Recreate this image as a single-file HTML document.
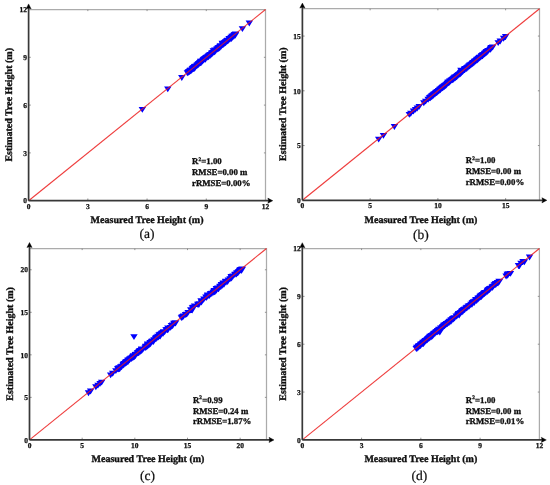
<!DOCTYPE html>
<html><head><meta charset="utf-8"><title>Tree height scatter plots</title>
<style>
html,body{margin:0;padding:0;background:#fff;}
svg{display:block;}
text{font-family:'Liberation Serif','Times New Roman',serif;fill:#111;stroke:#111;stroke-width:0.25px;text-rendering:geometricPrecision;}
.tk{font-size:7.5px;font-weight:bold;}
.al{font-size:10px;font-weight:bold;stroke-width:0.35px;}
.st{font-size:8.8px;font-weight:bold;stroke-width:0.32px;}
.sup{font-size:5.3px;}
.cap{font-size:13.5px;font-weight:normal;stroke-width:0.22px;}
</style></head>
<body>
<svg width="550" height="485" viewBox="0 0 550 485">
<defs><filter id="soft" x="0" y="0" width="100%" height="100%"><feGaussianBlur stdDeviation="0.3"/></filter></defs>
<rect width="550" height="485" fill="#fff"/>
<g filter="url(#soft)"><g><path d="M28.60 9.50H265.50V200.70" fill="none" stroke="#ababab" stroke-width="1.25"/><path d="M87.83 9.50v1.6M87.83 200.70v-2.2M265.50 152.90h-1.6M28.60 152.90h2.2M147.05 9.50v1.6M147.05 200.70v-2.2M265.50 105.10h-1.6M28.60 105.10h2.2M206.28 9.50v1.6M206.28 200.70v-2.2M265.50 57.30h-1.6M28.60 57.30h2.2" stroke="#888" stroke-width="0.9"/><path d="M138.61 106.97h7.4l-3.7 5.9zM164.08 86.42h7.4l-3.7 5.9zM178.10 75.11h7.4l-3.7 5.9zM238.70 26.19h7.4l-3.7 5.9zM245.61 20.62h7.4l-3.7 5.9zM199.73 57.56h7.4l-3.7 5.9zM187.05 67.71h7.4l-3.7 5.9zM186.54 68.23h7.4l-3.7 5.9zM204.91 53.51h7.4l-3.7 5.9zM204.42 54.02h7.4l-3.7 5.9zM194.12 62.19h7.4l-3.7 5.9zM211.09 47.56h7.4l-3.7 5.9zM186.23 68.82h7.4l-3.7 5.9zM190.99 64.72h7.4l-3.7 5.9zM223.46 38.34h7.4l-3.7 5.9zM214.46 45.33h7.4l-3.7 5.9zM187.04 67.98h7.4l-3.7 5.9zM216.50 43.83h7.4l-3.7 5.9zM211.90 47.57h7.4l-3.7 5.9zM222.17 39.65h7.4l-3.7 5.9zM211.01 48.14h7.4l-3.7 5.9zM218.91 41.36h7.4l-3.7 5.9zM189.10 65.68h7.4l-3.7 5.9zM191.09 64.55h7.4l-3.7 5.9zM216.18 44.71h7.4l-3.7 5.9zM225.99 35.97h7.4l-3.7 5.9zM212.28 47.41h7.4l-3.7 5.9zM224.76 37.79h7.4l-3.7 5.9zM216.37 44.42h7.4l-3.7 5.9zM215.67 45.24h7.4l-3.7 5.9zM197.25 59.14h7.4l-3.7 5.9zM184.74 69.57h7.4l-3.7 5.9zM189.96 65.77h7.4l-3.7 5.9zM190.08 65.20h7.4l-3.7 5.9zM226.25 36.34h7.4l-3.7 5.9zM210.80 49.33h7.4l-3.7 5.9zM225.55 36.52h7.4l-3.7 5.9zM201.73 56.88h7.4l-3.7 5.9zM191.22 64.44h7.4l-3.7 5.9zM194.71 61.35h7.4l-3.7 5.9zM196.84 60.22h7.4l-3.7 5.9zM201.01 56.31h7.4l-3.7 5.9zM216.81 43.56h7.4l-3.7 5.9zM217.12 43.92h7.4l-3.7 5.9zM221.92 40.34h7.4l-3.7 5.9zM202.69 55.10h7.4l-3.7 5.9zM214.60 45.69h7.4l-3.7 5.9zM194.06 62.15h7.4l-3.7 5.9zM186.53 68.43h7.4l-3.7 5.9zM188.68 66.48h7.4l-3.7 5.9zM225.98 36.44h7.4l-3.7 5.9zM195.86 60.45h7.4l-3.7 5.9zM190.31 66.30h7.4l-3.7 5.9zM206.23 52.29h7.4l-3.7 5.9zM188.64 66.34h7.4l-3.7 5.9zM223.94 38.09h7.4l-3.7 5.9zM229.65 33.39h7.4l-3.7 5.9zM210.45 49.23h7.4l-3.7 5.9zM231.45 32.57h7.4l-3.7 5.9zM196.33 60.19h7.4l-3.7 5.9zM220.65 40.44h7.4l-3.7 5.9zM199.86 57.19h7.4l-3.7 5.9zM231.78 32.38h7.4l-3.7 5.9zM223.39 38.71h7.4l-3.7 5.9zM208.81 50.23h7.4l-3.7 5.9zM185.13 69.21h7.4l-3.7 5.9zM217.63 43.52h7.4l-3.7 5.9zM229.88 33.95h7.4l-3.7 5.9zM201.50 56.08h7.4l-3.7 5.9zM193.45 62.49h7.4l-3.7 5.9zM227.55 35.57h7.4l-3.7 5.9zM215.44 45.09h7.4l-3.7 5.9zM216.21 44.92h7.4l-3.7 5.9zM219.92 41.18h7.4l-3.7 5.9zM221.72 39.31h7.4l-3.7 5.9zM230.58 32.41h7.4l-3.7 5.9zM229.59 33.67h7.4l-3.7 5.9zM190.34 65.11h7.4l-3.7 5.9zM223.17 38.65h7.4l-3.7 5.9zM231.08 32.40h7.4l-3.7 5.9zM210.39 49.04h7.4l-3.7 5.9zM230.57 32.82h7.4l-3.7 5.9zM228.43 33.85h7.4l-3.7 5.9zM223.83 38.06h7.4l-3.7 5.9zM198.01 58.73h7.4l-3.7 5.9zM196.23 60.30h7.4l-3.7 5.9zM227.64 34.75h7.4l-3.7 5.9zM212.29 47.86h7.4l-3.7 5.9zM227.84 34.66h7.4l-3.7 5.9zM209.46 50.02h7.4l-3.7 5.9zM193.21 63.33h7.4l-3.7 5.9zM191.69 63.70h7.4l-3.7 5.9zM210.57 48.51h7.4l-3.7 5.9zM210.72 48.91h7.4l-3.7 5.9zM210.92 48.42h7.4l-3.7 5.9zM220.79 40.36h7.4l-3.7 5.9zM220.85 40.95h7.4l-3.7 5.9zM213.09 46.59h7.4l-3.7 5.9zM216.98 43.36h7.4l-3.7 5.9zM207.37 51.96h7.4l-3.7 5.9zM226.43 36.34h7.4l-3.7 5.9zM211.41 48.80h7.4l-3.7 5.9zM190.68 64.95h7.4l-3.7 5.9zM187.34 67.56h7.4l-3.7 5.9zM216.33 44.85h7.4l-3.7 5.9zM191.20 64.80h7.4l-3.7 5.9zM191.31 65.33h7.4l-3.7 5.9zM194.73 61.99h7.4l-3.7 5.9zM207.95 51.49h7.4l-3.7 5.9zM191.31 64.06h7.4l-3.7 5.9zM200.31 57.05h7.4l-3.7 5.9zM219.12 42.26h7.4l-3.7 5.9zM205.39 53.27h7.4l-3.7 5.9zM213.89 46.14h7.4l-3.7 5.9zM231.65 32.65h7.4l-3.7 5.9zM188.88 66.33h7.4l-3.7 5.9zM221.48 39.95h7.4l-3.7 5.9zM204.71 54.24h7.4l-3.7 5.9zM196.72 59.96h7.4l-3.7 5.9zM211.38 48.31h7.4l-3.7 5.9zM186.48 68.47h7.4l-3.7 5.9zM187.71 67.79h7.4l-3.7 5.9zM223.10 38.96h7.4l-3.7 5.9zM187.25 68.09h7.4l-3.7 5.9zM199.58 57.43h7.4l-3.7 5.9zM197.03 59.82h7.4l-3.7 5.9zM195.49 61.09h7.4l-3.7 5.9zM186.33 68.32h7.4l-3.7 5.9zM198.59 58.78h7.4l-3.7 5.9zM208.13 50.77h7.4l-3.7 5.9zM184.70 69.74h7.4l-3.7 5.9zM219.10 41.92h7.4l-3.7 5.9zM206.91 52.00h7.4l-3.7 5.9zM223.11 38.40h7.4l-3.7 5.9zM223.91 37.73h7.4l-3.7 5.9zM217.35 43.66h7.4l-3.7 5.9zM223.96 38.32h7.4l-3.7 5.9zM203.34 54.62h7.4l-3.7 5.9zM190.54 65.25h7.4l-3.7 5.9zM196.25 60.42h7.4l-3.7 5.9zM224.81 37.91h7.4l-3.7 5.9zM197.47 59.28h7.4l-3.7 5.9zM206.22 52.33h7.4l-3.7 5.9zM197.32 60.36h7.4l-3.7 5.9zM210.31 48.51h7.4l-3.7 5.9zM198.78 58.39h7.4l-3.7 5.9zM201.93 55.54h7.4l-3.7 5.9zM193.51 62.64h7.4l-3.7 5.9zM196.85 60.05h7.4l-3.7 5.9zM186.09 68.83h7.4l-3.7 5.9zM194.77 61.55h7.4l-3.7 5.9zM219.86 41.51h7.4l-3.7 5.9zM226.14 36.03h7.4l-3.7 5.9zM231.73 31.74h7.4l-3.7 5.9zM215.47 45.25h7.4l-3.7 5.9zM226.63 35.95h7.4l-3.7 5.9zM223.34 38.56h7.4l-3.7 5.9zM208.49 51.17h7.4l-3.7 5.9zM223.25 38.48h7.4l-3.7 5.9zM216.78 43.99h7.4l-3.7 5.9zM185.52 69.10h7.4l-3.7 5.9zM189.09 66.65h7.4l-3.7 5.9zM213.87 46.24h7.4l-3.7 5.9zM208.02 51.38h7.4l-3.7 5.9zM219.65 41.28h7.4l-3.7 5.9zM216.15 44.59h7.4l-3.7 5.9zM196.23 60.56h7.4l-3.7 5.9zM219.23 41.64h7.4l-3.7 5.9zM230.72 32.39h7.4l-3.7 5.9zM206.78 52.16h7.4l-3.7 5.9zM213.59 46.48h7.4l-3.7 5.9zM190.94 64.34h7.4l-3.7 5.9zM198.50 58.62h7.4l-3.7 5.9zM186.70 67.76h7.4l-3.7 5.9zM217.19 43.64h7.4l-3.7 5.9zM208.48 50.26h7.4l-3.7 5.9zM189.71 65.96h7.4l-3.7 5.9zM231.18 32.32h7.4l-3.7 5.9zM206.35 53.14h7.4l-3.7 5.9zM205.54 52.78h7.4l-3.7 5.9zM229.65 33.27h7.4l-3.7 5.9zM189.95 65.04h7.4l-3.7 5.9zM190.38 65.57h7.4l-3.7 5.9zM226.65 36.03h7.4l-3.7 5.9zM227.17 35.44h7.4l-3.7 5.9zM183.67 70.33h7.4l-3.7 5.9zM198.60 58.53h7.4l-3.7 5.9zM199.12 58.16h7.4l-3.7 5.9zM220.21 41.28h7.4l-3.7 5.9zM228.48 34.82h7.4l-3.7 5.9zM197.63 59.00h7.4l-3.7 5.9zM231.89 31.62h7.4l-3.7 5.9zM204.51 53.70h7.4l-3.7 5.9zM188.86 66.69h7.4l-3.7 5.9zM229.07 33.78h7.4l-3.7 5.9zM208.64 50.33h7.4l-3.7 5.9zM230.47 33.45h7.4l-3.7 5.9zM214.94 46.15h7.4l-3.7 5.9zM210.37 49.12h7.4l-3.7 5.9zM218.77 41.78h7.4l-3.7 5.9zM214.97 45.25h7.4l-3.7 5.9zM228.88 34.11h7.4l-3.7 5.9zM200.30 56.70h7.4l-3.7 5.9zM231.01 32.03h7.4l-3.7 5.9zM198.09 58.83h7.4l-3.7 5.9zM196.19 60.26h7.4l-3.7 5.9zM225.34 36.18h7.4l-3.7 5.9zM227.84 36.21h7.4l-3.7 5.9zM194.76 61.38h7.4l-3.7 5.9zM203.79 54.61h7.4l-3.7 5.9zM196.85 58.85h7.4l-3.7 5.9zM218.62 40.82h7.4l-3.7 5.9zM209.59 48.26h7.4l-3.7 5.9z" fill="#0000ff"/><path d="M28.60 200.70L265.50 9.50" stroke="#eb1a1a" stroke-opacity="0.85" stroke-width="1.1"/><path d="M28.60 200.70V7.90M28.60 200.70H268.80" fill="none" stroke="#383838" stroke-width="1.7"/><path d="M28.60 3.90L31.20 8.90L28.60 8.10L26.00 8.90Z" fill="#000" stroke="#000" stroke-width="0.4"/><path d="M272.80 200.70L267.80 198.10L268.60 200.70L267.80 203.30Z" fill="#000" stroke="#000" stroke-width="0.4"/><text x="28.60" y="208.80" text-anchor="middle" class="tk">0</text><text x="27.00" y="203.40" text-anchor="end" class="tk">0</text><text x="87.83" y="208.80" text-anchor="middle" class="tk">3</text><text x="27.00" y="155.60" text-anchor="end" class="tk">3</text><text x="147.05" y="208.80" text-anchor="middle" class="tk">6</text><text x="27.00" y="107.80" text-anchor="end" class="tk">6</text><text x="206.28" y="208.80" text-anchor="middle" class="tk">9</text><text x="27.00" y="60.00" text-anchor="end" class="tk">9</text><text x="265.50" y="208.80" text-anchor="middle" class="tk">12</text><text x="27.00" y="12.20" text-anchor="end" class="tk">12</text><text x="147.05" y="223.10" text-anchor="middle" class="al">Measured Tree Height (m)</text><text transform="translate(11.80 104.80) rotate(-90)" text-anchor="middle" class="al">Estimated Tree Height (m)</text><text x="192.00" y="164.00" class="st">R<tspan class="sup" dx="0.1" dy="-3.5">2</tspan><tspan dx="0.2" dy="3.5">=1.00</tspan></text><text x="192.00" y="174.80" class="st">RMSE=0.00 m</text><text x="192.00" y="185.60" class="st">rRMSE=0.00%</text><text x="147.00" y="237.80" text-anchor="middle" class="cap">(a)</text></g><g><path d="M302.40 8.70H539.50V200.30" fill="none" stroke="#ababab" stroke-width="1.25"/><path d="M370.14 8.70v1.6M370.14 200.30v-2.2M539.50 145.56h-1.6M302.40 145.56h2.2M437.89 8.70v1.6M437.89 200.30v-2.2M539.50 90.81h-1.6M302.40 90.81h2.2M505.63 8.70v1.6M505.63 200.30v-2.2M539.50 36.07h-1.6M302.40 36.07h2.2" stroke="#888" stroke-width="0.9"/><path d="M374.98 136.71h7.4l-3.7 5.9zM379.72 132.88h7.4l-3.7 5.9zM390.69 124.01h7.4l-3.7 5.9zM405.60 111.97h7.4l-3.7 5.9zM407.09 110.76h7.4l-3.7 5.9zM409.80 108.57h7.4l-3.7 5.9zM411.83 106.93h7.4l-3.7 5.9zM413.59 105.51h7.4l-3.7 5.9zM415.49 103.97h7.4l-3.7 5.9zM420.10 100.25h7.4l-3.7 5.9zM421.99 98.72h7.4l-3.7 5.9zM424.43 96.75h7.4l-3.7 5.9zM494.48 40.14h7.4l-3.7 5.9zM496.51 38.50h7.4l-3.7 5.9zM499.90 35.76h7.4l-3.7 5.9zM501.93 34.12h7.4l-3.7 5.9zM429.92 91.82h7.4l-3.7 5.9zM433.79 88.96h7.4l-3.7 5.9zM481.04 50.90h7.4l-3.7 5.9zM441.70 82.54h7.4l-3.7 5.9zM487.04 46.62h7.4l-3.7 5.9zM427.76 94.26h7.4l-3.7 5.9zM482.83 49.31h7.4l-3.7 5.9zM425.71 95.19h7.4l-3.7 5.9zM478.96 53.30h7.4l-3.7 5.9zM441.97 82.59h7.4l-3.7 5.9zM459.12 68.91h7.4l-3.7 5.9zM471.81 58.52h7.4l-3.7 5.9zM455.12 71.92h7.4l-3.7 5.9zM475.92 54.81h7.4l-3.7 5.9zM467.13 62.14h7.4l-3.7 5.9zM441.88 82.67h7.4l-3.7 5.9zM433.42 89.58h7.4l-3.7 5.9zM463.06 65.36h7.4l-3.7 5.9zM464.50 64.49h7.4l-3.7 5.9zM455.68 71.79h7.4l-3.7 5.9zM482.19 49.94h7.4l-3.7 5.9zM442.10 82.78h7.4l-3.7 5.9zM445.87 79.59h7.4l-3.7 5.9zM468.87 60.67h7.4l-3.7 5.9zM468.68 61.15h7.4l-3.7 5.9zM428.12 93.53h7.4l-3.7 5.9zM469.64 60.03h7.4l-3.7 5.9zM472.99 57.40h7.4l-3.7 5.9zM487.67 45.24h7.4l-3.7 5.9zM440.82 83.28h7.4l-3.7 5.9zM445.06 80.31h7.4l-3.7 5.9zM438.02 85.63h7.4l-3.7 5.9zM468.53 61.23h7.4l-3.7 5.9zM451.24 74.75h7.4l-3.7 5.9zM435.16 88.11h7.4l-3.7 5.9zM451.44 75.40h7.4l-3.7 5.9zM473.19 57.73h7.4l-3.7 5.9zM447.21 78.14h7.4l-3.7 5.9zM473.87 56.98h7.4l-3.7 5.9zM450.04 75.85h7.4l-3.7 5.9zM437.00 86.72h7.4l-3.7 5.9zM448.54 77.37h7.4l-3.7 5.9zM487.51 45.66h7.4l-3.7 5.9zM478.47 53.31h7.4l-3.7 5.9zM429.00 92.87h7.4l-3.7 5.9zM484.68 47.97h7.4l-3.7 5.9zM483.38 49.24h7.4l-3.7 5.9zM477.76 53.71h7.4l-3.7 5.9zM428.70 93.50h7.4l-3.7 5.9zM442.42 82.56h7.4l-3.7 5.9zM447.58 77.58h7.4l-3.7 5.9zM465.32 63.42h7.4l-3.7 5.9zM446.21 79.13h7.4l-3.7 5.9zM474.42 56.67h7.4l-3.7 5.9zM486.27 46.88h7.4l-3.7 5.9zM456.80 71.09h7.4l-3.7 5.9zM450.67 75.37h7.4l-3.7 5.9zM457.60 70.09h7.4l-3.7 5.9zM477.14 54.44h7.4l-3.7 5.9zM475.13 55.76h7.4l-3.7 5.9zM446.18 78.77h7.4l-3.7 5.9zM431.20 91.11h7.4l-3.7 5.9zM441.85 82.69h7.4l-3.7 5.9zM460.98 66.59h7.4l-3.7 5.9zM482.47 49.98h7.4l-3.7 5.9zM431.61 91.00h7.4l-3.7 5.9zM471.11 58.87h7.4l-3.7 5.9zM452.38 74.15h7.4l-3.7 5.9zM473.86 57.14h7.4l-3.7 5.9zM433.86 89.31h7.4l-3.7 5.9zM461.92 66.07h7.4l-3.7 5.9zM438.74 85.06h7.4l-3.7 5.9zM436.02 87.69h7.4l-3.7 5.9zM446.33 78.33h7.4l-3.7 5.9zM458.41 69.03h7.4l-3.7 5.9zM467.75 61.82h7.4l-3.7 5.9zM456.45 71.29h7.4l-3.7 5.9zM484.45 48.35h7.4l-3.7 5.9zM433.85 88.89h7.4l-3.7 5.9zM463.37 65.49h7.4l-3.7 5.9zM481.06 50.82h7.4l-3.7 5.9zM475.67 55.44h7.4l-3.7 5.9zM463.91 64.84h7.4l-3.7 5.9zM449.62 76.37h7.4l-3.7 5.9zM442.05 82.46h7.4l-3.7 5.9zM439.19 84.95h7.4l-3.7 5.9zM469.32 60.40h7.4l-3.7 5.9zM439.08 85.17h7.4l-3.7 5.9zM430.25 92.08h7.4l-3.7 5.9zM461.03 67.18h7.4l-3.7 5.9zM436.41 87.17h7.4l-3.7 5.9zM443.92 80.48h7.4l-3.7 5.9zM445.77 79.42h7.4l-3.7 5.9zM453.03 74.42h7.4l-3.7 5.9zM449.33 76.46h7.4l-3.7 5.9zM439.46 84.94h7.4l-3.7 5.9zM453.13 73.78h7.4l-3.7 5.9zM482.16 49.98h7.4l-3.7 5.9zM426.73 94.74h7.4l-3.7 5.9zM484.23 48.50h7.4l-3.7 5.9zM449.56 76.35h7.4l-3.7 5.9zM443.64 80.91h7.4l-3.7 5.9zM432.62 89.82h7.4l-3.7 5.9zM487.66 45.60h7.4l-3.7 5.9zM486.34 46.93h7.4l-3.7 5.9zM429.64 92.76h7.4l-3.7 5.9zM483.36 49.11h7.4l-3.7 5.9zM436.29 87.30h7.4l-3.7 5.9zM452.03 74.87h7.4l-3.7 5.9zM437.75 85.86h7.4l-3.7 5.9zM458.96 68.73h7.4l-3.7 5.9zM441.72 83.07h7.4l-3.7 5.9zM428.36 93.42h7.4l-3.7 5.9zM428.54 93.54h7.4l-3.7 5.9zM463.96 64.65h7.4l-3.7 5.9zM445.32 79.57h7.4l-3.7 5.9zM453.05 73.68h7.4l-3.7 5.9zM454.25 72.84h7.4l-3.7 5.9zM457.26 69.97h7.4l-3.7 5.9zM475.60 55.27h7.4l-3.7 5.9zM456.27 71.03h7.4l-3.7 5.9zM453.66 73.18h7.4l-3.7 5.9zM458.82 69.12h7.4l-3.7 5.9zM431.26 91.48h7.4l-3.7 5.9zM458.85 69.05h7.4l-3.7 5.9zM450.22 76.02h7.4l-3.7 5.9zM480.96 51.34h7.4l-3.7 5.9zM478.15 53.06h7.4l-3.7 5.9zM457.81 70.22h7.4l-3.7 5.9zM436.68 87.31h7.4l-3.7 5.9zM430.03 91.84h7.4l-3.7 5.9zM436.30 87.34h7.4l-3.7 5.9zM478.14 53.31h7.4l-3.7 5.9zM484.68 47.97h7.4l-3.7 5.9zM458.25 69.35h7.4l-3.7 5.9zM437.90 85.74h7.4l-3.7 5.9zM469.44 60.52h7.4l-3.7 5.9zM476.22 54.91h7.4l-3.7 5.9zM466.31 62.43h7.4l-3.7 5.9zM461.04 67.03h7.4l-3.7 5.9zM433.00 90.06h7.4l-3.7 5.9zM451.21 75.27h7.4l-3.7 5.9zM488.96 44.54h7.4l-3.7 5.9zM474.63 56.05h7.4l-3.7 5.9zM473.77 57.08h7.4l-3.7 5.9zM441.83 82.74h7.4l-3.7 5.9zM463.27 65.41h7.4l-3.7 5.9zM426.28 95.32h7.4l-3.7 5.9zM465.06 63.65h7.4l-3.7 5.9zM483.18 49.26h7.4l-3.7 5.9zM467.66 61.82h7.4l-3.7 5.9zM448.81 77.07h7.4l-3.7 5.9zM440.10 84.00h7.4l-3.7 5.9zM438.89 85.06h7.4l-3.7 5.9zM434.78 88.55h7.4l-3.7 5.9zM435.80 87.62h7.4l-3.7 5.9zM481.58 50.76h7.4l-3.7 5.9zM443.17 81.82h7.4l-3.7 5.9zM461.69 66.31h7.4l-3.7 5.9zM454.62 72.70h7.4l-3.7 5.9zM441.93 82.67h7.4l-3.7 5.9zM459.78 68.01h7.4l-3.7 5.9zM429.78 92.45h7.4l-3.7 5.9zM461.24 67.12h7.4l-3.7 5.9zM438.57 85.29h7.4l-3.7 5.9zM466.96 62.51h7.4l-3.7 5.9zM445.74 79.46h7.4l-3.7 5.9zM482.76 49.92h7.4l-3.7 5.9zM426.65 95.33h7.4l-3.7 5.9zM455.67 71.67h7.4l-3.7 5.9zM440.56 83.73h7.4l-3.7 5.9zM428.36 93.20h7.4l-3.7 5.9zM470.50 59.88h7.4l-3.7 5.9zM442.79 81.80h7.4l-3.7 5.9zM476.11 54.88h7.4l-3.7 5.9zM467.08 62.42h7.4l-3.7 5.9zM482.25 50.14h7.4l-3.7 5.9zM441.07 83.68h7.4l-3.7 5.9zM473.38 56.74h7.4l-3.7 5.9zM447.01 78.17h7.4l-3.7 5.9zM466.11 63.21h7.4l-3.7 5.9zM488.02 45.00h7.4l-3.7 5.9zM470.62 59.67h7.4l-3.7 5.9zM472.04 58.21h7.4l-3.7 5.9zM439.50 84.57h7.4l-3.7 5.9zM484.08 48.54h7.4l-3.7 5.9zM433.02 90.01h7.4l-3.7 5.9zM435.15 88.13h7.4l-3.7 5.9zM469.95 59.98h7.4l-3.7 5.9zM473.22 57.43h7.4l-3.7 5.9zM449.35 77.01h7.4l-3.7 5.9zM483.19 49.44h7.4l-3.7 5.9zM484.38 48.41h7.4l-3.7 5.9zM439.20 84.82h7.4l-3.7 5.9zM480.15 52.03h7.4l-3.7 5.9zM478.48 53.08h7.4l-3.7 5.9zM432.70 90.13h7.4l-3.7 5.9zM439.02 84.73h7.4l-3.7 5.9zM427.38 94.22h7.4l-3.7 5.9zM471.51 58.50h7.4l-3.7 5.9zM487.05 45.84h7.4l-3.7 5.9zM465.63 63.59h7.4l-3.7 5.9zM453.88 73.12h7.4l-3.7 5.9zM470.79 59.20h7.4l-3.7 5.9zM481.28 50.90h7.4l-3.7 5.9zM437.04 86.67h7.4l-3.7 5.9zM474.61 56.22h7.4l-3.7 5.9zM456.95 70.16h7.4l-3.7 5.9zM437.62 85.93h7.4l-3.7 5.9zM478.99 52.24h7.4l-3.7 5.9zM444.19 80.58h7.4l-3.7 5.9zM458.01 69.64h7.4l-3.7 5.9zM431.28 91.52h7.4l-3.7 5.9zM476.03 55.05h7.4l-3.7 5.9zM451.27 74.57h7.4l-3.7 5.9zM431.58 91.02h7.4l-3.7 5.9zM439.15 84.47h7.4l-3.7 5.9zM457.67 69.41h7.4l-3.7 5.9zM440.69 83.36h7.4l-3.7 5.9zM474.11 56.85h7.4l-3.7 5.9zM448.19 77.42h7.4l-3.7 5.9zM479.57 52.28h7.4l-3.7 5.9zM436.53 86.60h7.4l-3.7 5.9zM463.10 65.50h7.4l-3.7 5.9zM482.43 49.78h7.4l-3.7 5.9zM445.14 80.22h7.4l-3.7 5.9zM435.99 87.38h7.4l-3.7 5.9zM446.73 78.64h7.4l-3.7 5.9zM447.15 78.14h7.4l-3.7 5.9zM472.88 57.68h7.4l-3.7 5.9zM432.09 89.89h7.4l-3.7 5.9zM476.65 54.70h7.4l-3.7 5.9zM438.49 85.40h7.4l-3.7 5.9zM439.16 84.78h7.4l-3.7 5.9zM451.55 75.14h7.4l-3.7 5.9zM457.77 69.81h7.4l-3.7 5.9zM434.92 88.24h7.4l-3.7 5.9zM473.42 57.40h7.4l-3.7 5.9zM462.61 66.07h7.4l-3.7 5.9zM440.54 84.00h7.4l-3.7 5.9zM475.22 55.91h7.4l-3.7 5.9zM469.19 60.60h7.4l-3.7 5.9zM445.92 79.38h7.4l-3.7 5.9zM452.84 74.10h7.4l-3.7 5.9zM466.15 62.86h7.4l-3.7 5.9zM454.89 72.13h7.4l-3.7 5.9zM469.17 60.73h7.4l-3.7 5.9zM467.77 61.91h7.4l-3.7 5.9zM457.30 70.23h7.4l-3.7 5.9zM460.85 67.23h7.4l-3.7 5.9zM483.13 49.00h7.4l-3.7 5.9zM460.78 66.50h7.4l-3.7 5.9zM457.46 70.24h7.4l-3.7 5.9zM457.21 67.69h7.4l-3.7 5.9zM440.63 84.05h7.4l-3.7 5.9zM475.17 55.80h7.4l-3.7 5.9zM450.19 76.29h7.4l-3.7 5.9zM453.04 74.36h7.4l-3.7 5.9zM452.98 74.12h7.4l-3.7 5.9zM444.46 79.52h7.4l-3.7 5.9z" fill="#0000ff"/><path d="M302.40 200.30L539.50 8.70" stroke="#eb1a1a" stroke-opacity="0.85" stroke-width="1.1"/><path d="M302.40 200.30V7.10M302.40 200.30H542.90" fill="none" stroke="#383838" stroke-width="1.7"/><path d="M302.40 3.10L305.00 8.10L302.40 7.30L299.80 8.10Z" fill="#000" stroke="#000" stroke-width="0.4"/><path d="M546.90 200.30L541.90 197.70L542.70 200.30L541.90 202.90Z" fill="#000" stroke="#000" stroke-width="0.4"/><text x="302.40" y="208.40" text-anchor="middle" class="tk">0</text><text x="300.80" y="203.00" text-anchor="end" class="tk">0</text><text x="370.14" y="208.40" text-anchor="middle" class="tk">5</text><text x="300.80" y="148.26" text-anchor="end" class="tk">5</text><text x="437.89" y="208.40" text-anchor="middle" class="tk">10</text><text x="300.80" y="93.51" text-anchor="end" class="tk">10</text><text x="505.63" y="208.40" text-anchor="middle" class="tk">15</text><text x="300.80" y="38.77" text-anchor="end" class="tk">15</text><text x="420.95" y="222.70" text-anchor="middle" class="al">Measured Tree Height (m)</text><text transform="translate(285.60 104.20) rotate(-90)" text-anchor="middle" class="al">Estimated Tree Height (m)</text><text x="465.70" y="163.40" class="st">R<tspan class="sup" dx="0.1" dy="-3.5">2</tspan><tspan dx="0.2" dy="3.5">=1.00</tspan></text><text x="465.70" y="174.20" class="st">RMSE=0.00 m</text><text x="465.70" y="185.00" class="st">rRMSE=0.00%</text><text x="420.90" y="238.50" text-anchor="middle" class="cap">(b)</text></g><g><path d="M29.50 248.50H266.50V439.90" fill="none" stroke="#ababab" stroke-width="1.25"/><path d="M82.17 248.50v1.6M82.17 439.90v-2.2M266.50 397.37h-1.6M29.50 397.37h2.2M134.83 248.50v1.6M134.83 439.90v-2.2M266.50 354.83h-1.6M29.50 354.83h2.2M187.50 248.50v1.6M187.50 439.90v-2.2M266.50 312.30h-1.6M29.50 312.30h2.2M240.17 248.50v1.6M240.17 439.90v-2.2M266.50 269.77h-1.6M29.50 269.77h2.2" stroke="#888" stroke-width="0.9"/><path d="M130.29 334.17h7.4l-3.7 5.9zM84.79 390.31h7.4l-3.7 5.9zM86.89 388.61h7.4l-3.7 5.9zM92.16 384.36h7.4l-3.7 5.9zM94.27 382.66h7.4l-3.7 5.9zM96.37 380.96h7.4l-3.7 5.9zM97.95 379.68h7.4l-3.7 5.9zM106.91 372.45h7.4l-3.7 5.9zM109.01 370.75h7.4l-3.7 5.9zM112.17 368.20h7.4l-3.7 5.9zM137.75 347.34h7.4l-3.7 5.9zM134.32 349.98h7.4l-3.7 5.9zM117.68 364.47h7.4l-3.7 5.9zM129.78 353.46h7.4l-3.7 5.9zM120.38 361.95h7.4l-3.7 5.9zM130.75 354.02h7.4l-3.7 5.9zM125.97 356.52h7.4l-3.7 5.9zM117.64 364.21h7.4l-3.7 5.9zM135.74 348.80h7.4l-3.7 5.9zM120.45 361.22h7.4l-3.7 5.9zM114.29 366.71h7.4l-3.7 5.9zM120.32 361.12h7.4l-3.7 5.9zM124.71 358.13h7.4l-3.7 5.9zM124.19 359.38h7.4l-3.7 5.9zM116.15 365.98h7.4l-3.7 5.9zM134.61 349.99h7.4l-3.7 5.9zM130.35 353.56h7.4l-3.7 5.9zM138.16 347.28h7.4l-3.7 5.9zM117.04 364.23h7.4l-3.7 5.9zM133.77 350.48h7.4l-3.7 5.9zM137.20 348.24h7.4l-3.7 5.9zM136.24 348.67h7.4l-3.7 5.9zM131.76 353.22h7.4l-3.7 5.9zM135.70 348.87h7.4l-3.7 5.9zM127.68 356.02h7.4l-3.7 5.9zM136.28 348.56h7.4l-3.7 5.9zM120.51 361.41h7.4l-3.7 5.9zM115.53 365.26h7.4l-3.7 5.9zM126.18 356.46h7.4l-3.7 5.9zM136.90 348.85h7.4l-3.7 5.9zM125.53 357.13h7.4l-3.7 5.9zM135.22 349.08h7.4l-3.7 5.9zM139.10 346.66h7.4l-3.7 5.9zM130.93 353.42h7.4l-3.7 5.9zM131.88 352.69h7.4l-3.7 5.9zM138.61 346.48h7.4l-3.7 5.9zM137.63 348.05h7.4l-3.7 5.9zM129.64 353.15h7.4l-3.7 5.9zM123.03 358.95h7.4l-3.7 5.9zM133.87 350.41h7.4l-3.7 5.9zM124.21 358.08h7.4l-3.7 5.9zM121.89 360.82h7.4l-3.7 5.9zM126.95 355.81h7.4l-3.7 5.9zM138.51 347.09h7.4l-3.7 5.9zM122.50 359.48h7.4l-3.7 5.9zM128.62 354.97h7.4l-3.7 5.9zM115.14 366.37h7.4l-3.7 5.9zM128.41 355.27h7.4l-3.7 5.9zM114.79 365.65h7.4l-3.7 5.9zM129.26 354.57h7.4l-3.7 5.9zM136.83 348.22h7.4l-3.7 5.9zM129.94 354.13h7.4l-3.7 5.9zM131.64 352.10h7.4l-3.7 5.9zM125.87 357.30h7.4l-3.7 5.9zM119.57 362.66h7.4l-3.7 5.9zM137.16 348.10h7.4l-3.7 5.9zM135.20 350.13h7.4l-3.7 5.9zM120.66 360.89h7.4l-3.7 5.9zM121.78 359.79h7.4l-3.7 5.9zM138.40 347.28h7.4l-3.7 5.9zM115.84 365.27h7.4l-3.7 5.9zM129.22 354.93h7.4l-3.7 5.9zM114.21 365.91h7.4l-3.7 5.9zM138.46 347.40h7.4l-3.7 5.9zM125.19 357.78h7.4l-3.7 5.9zM119.69 362.11h7.4l-3.7 5.9zM114.31 366.55h7.4l-3.7 5.9zM139.43 346.40h7.4l-3.7 5.9zM118.21 363.80h7.4l-3.7 5.9zM120.38 361.77h7.4l-3.7 5.9zM115.65 366.00h7.4l-3.7 5.9zM135.88 349.17h7.4l-3.7 5.9zM130.05 354.03h7.4l-3.7 5.9zM137.82 346.58h7.4l-3.7 5.9zM132.48 351.85h7.4l-3.7 5.9zM130.80 353.34h7.4l-3.7 5.9zM122.11 360.35h7.4l-3.7 5.9zM135.90 348.91h7.4l-3.7 5.9zM123.17 359.16h7.4l-3.7 5.9zM131.85 352.19h7.4l-3.7 5.9zM123.10 359.46h7.4l-3.7 5.9zM124.29 357.57h7.4l-3.7 5.9zM138.29 347.63h7.4l-3.7 5.9zM122.73 360.18h7.4l-3.7 5.9zM132.24 352.41h7.4l-3.7 5.9zM130.38 354.22h7.4l-3.7 5.9zM129.32 353.89h7.4l-3.7 5.9zM136.27 348.00h7.4l-3.7 5.9zM130.10 354.58h7.4l-3.7 5.9zM121.77 360.71h7.4l-3.7 5.9zM148.71 338.48h7.4l-3.7 5.9zM159.20 330.67h7.4l-3.7 5.9zM157.33 332.36h7.4l-3.7 5.9zM146.93 340.99h7.4l-3.7 5.9zM154.81 334.19h7.4l-3.7 5.9zM142.09 343.66h7.4l-3.7 5.9zM145.05 342.44h7.4l-3.7 5.9zM145.20 341.44h7.4l-3.7 5.9zM150.29 337.23h7.4l-3.7 5.9zM155.90 333.35h7.4l-3.7 5.9zM143.10 343.97h7.4l-3.7 5.9zM144.89 341.49h7.4l-3.7 5.9zM157.91 330.93h7.4l-3.7 5.9zM152.73 335.32h7.4l-3.7 5.9zM144.54 342.27h7.4l-3.7 5.9zM151.72 335.68h7.4l-3.7 5.9zM145.43 342.13h7.4l-3.7 5.9zM148.90 338.62h7.4l-3.7 5.9zM156.80 332.03h7.4l-3.7 5.9zM147.78 339.38h7.4l-3.7 5.9zM142.64 344.31h7.4l-3.7 5.9zM150.32 337.26h7.4l-3.7 5.9zM155.41 332.17h7.4l-3.7 5.9zM156.55 333.52h7.4l-3.7 5.9zM146.36 340.75h7.4l-3.7 5.9zM144.78 341.90h7.4l-3.7 5.9zM152.32 336.30h7.4l-3.7 5.9zM159.73 329.96h7.4l-3.7 5.9zM152.62 335.29h7.4l-3.7 5.9zM159.81 329.27h7.4l-3.7 5.9zM154.23 334.86h7.4l-3.7 5.9zM148.56 338.55h7.4l-3.7 5.9zM160.26 329.62h7.4l-3.7 5.9zM141.88 343.88h7.4l-3.7 5.9zM159.39 330.96h7.4l-3.7 5.9zM142.21 344.58h7.4l-3.7 5.9zM153.88 334.64h7.4l-3.7 5.9zM143.99 343.33h7.4l-3.7 5.9zM154.16 333.72h7.4l-3.7 5.9zM156.20 332.69h7.4l-3.7 5.9zM146.49 340.48h7.4l-3.7 5.9zM144.44 341.96h7.4l-3.7 5.9zM155.01 334.09h7.4l-3.7 5.9zM145.88 341.56h7.4l-3.7 5.9zM146.21 341.61h7.4l-3.7 5.9zM158.75 330.53h7.4l-3.7 5.9zM143.76 343.56h7.4l-3.7 5.9zM153.02 334.82h7.4l-3.7 5.9zM156.59 331.78h7.4l-3.7 5.9zM143.95 342.44h7.4l-3.7 5.9zM154.83 333.63h7.4l-3.7 5.9zM158.06 330.75h7.4l-3.7 5.9zM144.07 341.71h7.4l-3.7 5.9zM147.90 339.19h7.4l-3.7 5.9zM147.51 339.89h7.4l-3.7 5.9zM161.05 329.15h7.4l-3.7 5.9zM154.28 333.91h7.4l-3.7 5.9zM146.70 340.07h7.4l-3.7 5.9zM149.73 339.14h7.4l-3.7 5.9zM159.45 330.08h7.4l-3.7 5.9zM159.24 330.50h7.4l-3.7 5.9zM146.93 340.19h7.4l-3.7 5.9zM156.74 331.94h7.4l-3.7 5.9zM141.43 345.13h7.4l-3.7 5.9zM143.91 341.58h7.4l-3.7 5.9zM145.19 341.45h7.4l-3.7 5.9zM144.74 342.50h7.4l-3.7 5.9zM145.13 341.64h7.4l-3.7 5.9zM152.66 335.22h7.4l-3.7 5.9zM144.65 341.91h7.4l-3.7 5.9zM171.46 320.23h7.4l-3.7 5.9zM163.41 327.12h7.4l-3.7 5.9zM171.44 320.71h7.4l-3.7 5.9zM166.90 324.94h7.4l-3.7 5.9zM169.11 322.89h7.4l-3.7 5.9zM168.23 323.30h7.4l-3.7 5.9zM164.99 325.99h7.4l-3.7 5.9zM164.15 325.57h7.4l-3.7 5.9zM162.33 327.37h7.4l-3.7 5.9zM168.92 322.39h7.4l-3.7 5.9zM172.01 320.29h7.4l-3.7 5.9zM170.08 320.63h7.4l-3.7 5.9zM164.14 327.42h7.4l-3.7 5.9zM167.69 322.98h7.4l-3.7 5.9zM183.06 311.71h7.4l-3.7 5.9zM179.74 313.55h7.4l-3.7 5.9zM179.90 313.61h7.4l-3.7 5.9zM178.63 314.67h7.4l-3.7 5.9zM177.69 315.18h7.4l-3.7 5.9zM181.80 312.07h7.4l-3.7 5.9zM184.39 309.95h7.4l-3.7 5.9zM178.42 314.28h7.4l-3.7 5.9zM189.54 305.72h7.4l-3.7 5.9zM187.10 307.49h7.4l-3.7 5.9zM187.28 307.28h7.4l-3.7 5.9zM188.53 307.61h7.4l-3.7 5.9zM189.62 304.77h7.4l-3.7 5.9zM190.90 303.48h7.4l-3.7 5.9zM194.04 301.73h7.4l-3.7 5.9zM188.69 305.14h7.4l-3.7 5.9zM195.14 302.05h7.4l-3.7 5.9zM195.40 301.24h7.4l-3.7 5.9zM237.21 267.64h7.4l-3.7 5.9zM214.50 285.59h7.4l-3.7 5.9zM219.81 281.49h7.4l-3.7 5.9zM218.52 282.51h7.4l-3.7 5.9zM237.53 268.11h7.4l-3.7 5.9zM223.90 279.11h7.4l-3.7 5.9zM234.57 269.81h7.4l-3.7 5.9zM208.23 290.78h7.4l-3.7 5.9zM220.42 281.57h7.4l-3.7 5.9zM207.23 291.04h7.4l-3.7 5.9zM236.45 267.39h7.4l-3.7 5.9zM224.61 277.42h7.4l-3.7 5.9zM236.35 267.60h7.4l-3.7 5.9zM216.36 283.87h7.4l-3.7 5.9zM202.88 294.92h7.4l-3.7 5.9zM214.10 285.50h7.4l-3.7 5.9zM200.14 296.61h7.4l-3.7 5.9zM221.86 279.32h7.4l-3.7 5.9zM205.61 293.07h7.4l-3.7 5.9zM219.56 281.42h7.4l-3.7 5.9zM210.27 288.69h7.4l-3.7 5.9zM218.03 281.91h7.4l-3.7 5.9zM197.35 298.22h7.4l-3.7 5.9zM206.72 291.55h7.4l-3.7 5.9zM209.63 289.87h7.4l-3.7 5.9zM229.32 273.54h7.4l-3.7 5.9zM233.11 270.33h7.4l-3.7 5.9zM212.63 286.17h7.4l-3.7 5.9zM202.19 294.60h7.4l-3.7 5.9zM228.11 274.47h7.4l-3.7 5.9zM211.64 288.12h7.4l-3.7 5.9zM232.69 271.56h7.4l-3.7 5.9zM227.80 275.50h7.4l-3.7 5.9zM217.20 284.18h7.4l-3.7 5.9zM235.81 268.33h7.4l-3.7 5.9zM197.74 299.71h7.4l-3.7 5.9zM218.61 282.90h7.4l-3.7 5.9zM214.89 286.27h7.4l-3.7 5.9zM222.02 278.82h7.4l-3.7 5.9zM216.23 284.45h7.4l-3.7 5.9zM213.05 286.47h7.4l-3.7 5.9zM210.96 289.41h7.4l-3.7 5.9zM217.70 282.62h7.4l-3.7 5.9zM210.41 288.76h7.4l-3.7 5.9zM222.39 279.49h7.4l-3.7 5.9zM211.35 289.22h7.4l-3.7 5.9zM237.04 267.05h7.4l-3.7 5.9zM235.06 269.07h7.4l-3.7 5.9zM219.52 280.53h7.4l-3.7 5.9zM227.44 273.99h7.4l-3.7 5.9zM217.95 282.19h7.4l-3.7 5.9zM213.05 285.92h7.4l-3.7 5.9zM212.67 287.85h7.4l-3.7 5.9zM219.49 281.63h7.4l-3.7 5.9zM213.32 286.20h7.4l-3.7 5.9zM234.23 270.21h7.4l-3.7 5.9zM214.33 285.69h7.4l-3.7 5.9zM210.64 288.05h7.4l-3.7 5.9zM203.90 292.56h7.4l-3.7 5.9zM231.17 271.90h7.4l-3.7 5.9zM233.88 270.35h7.4l-3.7 5.9zM238.59 266.73h7.4l-3.7 5.9zM203.76 293.61h7.4l-3.7 5.9zM218.36 282.29h7.4l-3.7 5.9zM222.99 278.63h7.4l-3.7 5.9zM238.22 266.42h7.4l-3.7 5.9zM214.50 286.00h7.4l-3.7 5.9zM226.32 276.37h7.4l-3.7 5.9zM231.42 271.68h7.4l-3.7 5.9zM204.90 292.76h7.4l-3.7 5.9z" fill="#0000ff"/><path d="M29.50 439.90L266.50 248.50" stroke="#eb1a1a" stroke-opacity="0.85" stroke-width="1.1"/><path d="M29.50 439.90V246.50M29.50 439.90H270.00" fill="none" stroke="#383838" stroke-width="1.7"/><path d="M29.50 242.50L32.10 247.50L29.50 246.70L26.90 247.50Z" fill="#000" stroke="#000" stroke-width="0.4"/><path d="M274.00 439.90L269.00 437.30L269.80 439.90L269.00 442.50Z" fill="#000" stroke="#000" stroke-width="0.4"/><text x="29.50" y="448.00" text-anchor="middle" class="tk">0</text><text x="27.90" y="442.60" text-anchor="end" class="tk">0</text><text x="82.17" y="448.00" text-anchor="middle" class="tk">5</text><text x="27.90" y="400.07" text-anchor="end" class="tk">5</text><text x="134.83" y="448.00" text-anchor="middle" class="tk">10</text><text x="27.90" y="357.53" text-anchor="end" class="tk">10</text><text x="187.50" y="448.00" text-anchor="middle" class="tk">15</text><text x="27.90" y="315.00" text-anchor="end" class="tk">15</text><text x="240.17" y="448.00" text-anchor="middle" class="tk">20</text><text x="27.90" y="272.47" text-anchor="end" class="tk">20</text><text x="148.00" y="462.30" text-anchor="middle" class="al">Measured Tree Height (m)</text><text transform="translate(12.70 343.90) rotate(-90)" text-anchor="middle" class="al">Estimated Tree Height (m)</text><text x="192.90" y="402.70" class="st">R<tspan class="sup" dx="0.1" dy="-3.5">2</tspan><tspan dx="0.2" dy="3.5">=0.99</tspan></text><text x="192.90" y="413.50" class="st">RMSE=0.24 m</text><text x="192.90" y="424.30" class="st">rRMSE=1.87%</text><text x="147.50" y="479.60" text-anchor="middle" class="cap">(c)</text></g><g><path d="M302.30 248.50H539.40V439.90" fill="none" stroke="#ababab" stroke-width="1.25"/><path d="M361.57 248.50v1.6M361.57 439.90v-2.2M539.40 392.05h-1.6M302.30 392.05h2.2M420.85 248.50v1.6M420.85 439.90v-2.2M539.40 344.20h-1.6M302.30 344.20h2.2M480.12 248.50v1.6M480.12 439.90v-2.2M539.40 296.35h-1.6M302.30 296.35h2.2" stroke="#888" stroke-width="0.9"/><path d="M434.33 328.44h7.4l-3.7 5.9zM495.67 278.76h7.4l-3.7 5.9zM422.69 337.66h7.4l-3.7 5.9zM421.31 338.92h7.4l-3.7 5.9zM456.27 311.11h7.4l-3.7 5.9zM479.99 291.55h7.4l-3.7 5.9zM476.71 293.66h7.4l-3.7 5.9zM442.04 322.09h7.4l-3.7 5.9zM420.88 339.68h7.4l-3.7 5.9zM441.23 322.51h7.4l-3.7 5.9zM417.10 342.73h7.4l-3.7 5.9zM492.41 281.06h7.4l-3.7 5.9zM433.81 329.19h7.4l-3.7 5.9zM483.73 287.83h7.4l-3.7 5.9zM480.59 290.62h7.4l-3.7 5.9zM492.10 281.14h7.4l-3.7 5.9zM432.25 329.53h7.4l-3.7 5.9zM430.58 330.77h7.4l-3.7 5.9zM452.94 313.57h7.4l-3.7 5.9zM426.66 334.36h7.4l-3.7 5.9zM493.70 280.08h7.4l-3.7 5.9zM421.57 338.50h7.4l-3.7 5.9zM446.21 318.86h7.4l-3.7 5.9zM481.43 290.11h7.4l-3.7 5.9zM428.22 333.10h7.4l-3.7 5.9zM415.00 344.06h7.4l-3.7 5.9zM425.27 335.77h7.4l-3.7 5.9zM434.93 328.07h7.4l-3.7 5.9zM449.71 316.56h7.4l-3.7 5.9zM425.29 335.14h7.4l-3.7 5.9zM444.05 320.73h7.4l-3.7 5.9zM491.85 281.78h7.4l-3.7 5.9zM450.54 315.28h7.4l-3.7 5.9zM434.43 328.75h7.4l-3.7 5.9zM443.12 320.96h7.4l-3.7 5.9zM430.16 331.92h7.4l-3.7 5.9zM455.06 311.51h7.4l-3.7 5.9zM476.69 293.69h7.4l-3.7 5.9zM459.77 307.54h7.4l-3.7 5.9zM419.69 339.99h7.4l-3.7 5.9zM439.09 324.57h7.4l-3.7 5.9zM459.18 307.93h7.4l-3.7 5.9zM437.38 326.02h7.4l-3.7 5.9zM431.55 330.62h7.4l-3.7 5.9zM435.39 326.80h7.4l-3.7 5.9zM477.73 294.02h7.4l-3.7 5.9zM423.30 337.22h7.4l-3.7 5.9zM469.14 300.36h7.4l-3.7 5.9zM446.61 318.58h7.4l-3.7 5.9zM433.23 329.58h7.4l-3.7 5.9zM465.08 303.50h7.4l-3.7 5.9zM488.80 284.74h7.4l-3.7 5.9zM415.78 343.46h7.4l-3.7 5.9zM428.75 332.59h7.4l-3.7 5.9zM415.35 343.26h7.4l-3.7 5.9zM427.50 334.32h7.4l-3.7 5.9zM472.38 297.40h7.4l-3.7 5.9zM469.67 299.84h7.4l-3.7 5.9zM482.31 289.88h7.4l-3.7 5.9zM416.06 343.58h7.4l-3.7 5.9zM416.19 342.91h7.4l-3.7 5.9zM478.83 292.07h7.4l-3.7 5.9zM475.54 295.24h7.4l-3.7 5.9zM445.26 320.00h7.4l-3.7 5.9zM436.43 326.87h7.4l-3.7 5.9zM448.22 317.65h7.4l-3.7 5.9zM474.43 296.46h7.4l-3.7 5.9zM450.66 315.42h7.4l-3.7 5.9zM447.50 317.24h7.4l-3.7 5.9zM422.94 337.66h7.4l-3.7 5.9zM471.30 298.78h7.4l-3.7 5.9zM458.51 309.26h7.4l-3.7 5.9zM457.89 309.28h7.4l-3.7 5.9zM442.09 321.90h7.4l-3.7 5.9zM438.59 324.90h7.4l-3.7 5.9zM468.52 300.62h7.4l-3.7 5.9zM454.83 311.11h7.4l-3.7 5.9zM441.54 321.94h7.4l-3.7 5.9zM423.88 336.70h7.4l-3.7 5.9zM480.20 291.08h7.4l-3.7 5.9zM426.22 335.05h7.4l-3.7 5.9zM450.99 315.42h7.4l-3.7 5.9zM421.75 338.26h7.4l-3.7 5.9zM429.77 332.17h7.4l-3.7 5.9zM428.67 333.12h7.4l-3.7 5.9zM421.55 338.34h7.4l-3.7 5.9zM442.75 321.55h7.4l-3.7 5.9zM413.61 345.52h7.4l-3.7 5.9zM419.09 341.20h7.4l-3.7 5.9zM459.81 307.85h7.4l-3.7 5.9zM448.81 316.52h7.4l-3.7 5.9zM413.28 345.84h7.4l-3.7 5.9zM465.32 303.82h7.4l-3.7 5.9zM433.33 329.06h7.4l-3.7 5.9zM414.62 344.81h7.4l-3.7 5.9zM437.26 325.84h7.4l-3.7 5.9zM483.39 288.97h7.4l-3.7 5.9zM478.33 293.40h7.4l-3.7 5.9zM439.86 323.68h7.4l-3.7 5.9zM438.84 324.31h7.4l-3.7 5.9zM443.33 321.36h7.4l-3.7 5.9zM415.29 343.58h7.4l-3.7 5.9zM480.87 291.17h7.4l-3.7 5.9zM491.21 282.17h7.4l-3.7 5.9zM425.31 335.26h7.4l-3.7 5.9zM418.88 340.93h7.4l-3.7 5.9zM449.55 316.21h7.4l-3.7 5.9zM415.39 343.47h7.4l-3.7 5.9zM473.49 297.22h7.4l-3.7 5.9zM484.11 288.50h7.4l-3.7 5.9zM435.81 327.28h7.4l-3.7 5.9zM447.41 317.47h7.4l-3.7 5.9zM468.44 301.54h7.4l-3.7 5.9zM425.93 334.84h7.4l-3.7 5.9zM459.41 307.92h7.4l-3.7 5.9zM419.20 340.23h7.4l-3.7 5.9zM494.27 280.66h7.4l-3.7 5.9zM494.43 280.27h7.4l-3.7 5.9zM480.74 291.12h7.4l-3.7 5.9zM463.25 304.65h7.4l-3.7 5.9zM491.80 281.61h7.4l-3.7 5.9zM437.00 325.53h7.4l-3.7 5.9zM414.72 344.02h7.4l-3.7 5.9zM450.15 315.73h7.4l-3.7 5.9zM443.18 321.14h7.4l-3.7 5.9zM456.44 310.41h7.4l-3.7 5.9zM422.07 338.04h7.4l-3.7 5.9zM458.69 308.77h7.4l-3.7 5.9zM433.80 328.89h7.4l-3.7 5.9zM432.96 329.17h7.4l-3.7 5.9zM431.10 330.93h7.4l-3.7 5.9zM455.20 311.50h7.4l-3.7 5.9zM446.76 318.46h7.4l-3.7 5.9zM484.27 287.82h7.4l-3.7 5.9zM476.45 294.45h7.4l-3.7 5.9zM473.25 297.05h7.4l-3.7 5.9zM445.48 319.13h7.4l-3.7 5.9zM459.52 308.20h7.4l-3.7 5.9zM477.59 293.56h7.4l-3.7 5.9zM443.87 320.97h7.4l-3.7 5.9zM429.96 331.43h7.4l-3.7 5.9zM448.30 317.58h7.4l-3.7 5.9zM484.83 287.32h7.4l-3.7 5.9zM485.57 286.87h7.4l-3.7 5.9zM440.92 323.46h7.4l-3.7 5.9zM481.75 290.11h7.4l-3.7 5.9zM474.57 296.38h7.4l-3.7 5.9zM415.76 343.36h7.4l-3.7 5.9zM458.34 309.14h7.4l-3.7 5.9zM489.81 283.67h7.4l-3.7 5.9zM427.90 332.99h7.4l-3.7 5.9zM461.08 306.80h7.4l-3.7 5.9zM421.54 338.90h7.4l-3.7 5.9zM458.64 308.31h7.4l-3.7 5.9zM444.56 320.04h7.4l-3.7 5.9zM457.22 310.14h7.4l-3.7 5.9zM492.15 281.90h7.4l-3.7 5.9zM424.28 336.01h7.4l-3.7 5.9zM479.61 291.94h7.4l-3.7 5.9zM480.80 290.98h7.4l-3.7 5.9zM452.47 313.60h7.4l-3.7 5.9zM445.53 319.80h7.4l-3.7 5.9zM418.48 340.95h7.4l-3.7 5.9zM487.21 285.67h7.4l-3.7 5.9zM426.25 334.53h7.4l-3.7 5.9zM460.46 306.98h7.4l-3.7 5.9zM412.48 345.93h7.4l-3.7 5.9zM413.09 344.67h7.4l-3.7 5.9zM416.29 342.88h7.4l-3.7 5.9zM435.06 327.48h7.4l-3.7 5.9zM433.89 328.60h7.4l-3.7 5.9zM492.65 281.37h7.4l-3.7 5.9zM459.37 308.72h7.4l-3.7 5.9zM476.95 294.00h7.4l-3.7 5.9zM442.58 321.22h7.4l-3.7 5.9zM485.92 287.21h7.4l-3.7 5.9zM437.78 326.02h7.4l-3.7 5.9zM454.76 311.91h7.4l-3.7 5.9zM458.37 308.86h7.4l-3.7 5.9zM440.13 322.74h7.4l-3.7 5.9zM452.49 313.47h7.4l-3.7 5.9zM431.84 330.22h7.4l-3.7 5.9zM413.04 345.94h7.4l-3.7 5.9zM449.39 316.12h7.4l-3.7 5.9zM426.62 334.70h7.4l-3.7 5.9zM438.06 325.62h7.4l-3.7 5.9zM490.57 282.24h7.4l-3.7 5.9zM461.36 306.62h7.4l-3.7 5.9zM461.23 306.91h7.4l-3.7 5.9zM476.71 293.53h7.4l-3.7 5.9zM417.27 341.60h7.4l-3.7 5.9zM435.37 327.49h7.4l-3.7 5.9zM425.98 334.71h7.4l-3.7 5.9zM430.38 331.34h7.4l-3.7 5.9zM463.12 305.63h7.4l-3.7 5.9zM428.65 333.51h7.4l-3.7 5.9zM463.15 305.29h7.4l-3.7 5.9zM485.64 286.78h7.4l-3.7 5.9zM427.42 333.59h7.4l-3.7 5.9zM466.13 302.94h7.4l-3.7 5.9zM439.65 324.43h7.4l-3.7 5.9zM446.13 318.96h7.4l-3.7 5.9zM416.96 342.31h7.4l-3.7 5.9zM464.63 303.54h7.4l-3.7 5.9zM462.40 305.44h7.4l-3.7 5.9zM413.69 345.46h7.4l-3.7 5.9zM495.52 279.18h7.4l-3.7 5.9zM472.96 297.06h7.4l-3.7 5.9zM425.64 335.33h7.4l-3.7 5.9zM419.88 340.38h7.4l-3.7 5.9zM457.12 309.88h7.4l-3.7 5.9zM467.20 301.80h7.4l-3.7 5.9zM474.42 295.62h7.4l-3.7 5.9zM476.35 294.70h7.4l-3.7 5.9zM477.41 293.90h7.4l-3.7 5.9zM434.88 327.46h7.4l-3.7 5.9zM423.62 337.28h7.4l-3.7 5.9zM467.29 302.04h7.4l-3.7 5.9zM495.37 278.76h7.4l-3.7 5.9zM419.92 340.12h7.4l-3.7 5.9zM416.89 342.16h7.4l-3.7 5.9zM427.74 334.00h7.4l-3.7 5.9zM424.96 335.76h7.4l-3.7 5.9zM489.63 283.72h7.4l-3.7 5.9zM477.59 292.81h7.4l-3.7 5.9zM453.93 312.58h7.4l-3.7 5.9zM479.18 291.92h7.4l-3.7 5.9zM488.46 284.75h7.4l-3.7 5.9zM417.52 341.99h7.4l-3.7 5.9zM485.12 287.55h7.4l-3.7 5.9zM447.26 318.73h7.4l-3.7 5.9zM464.91 303.55h7.4l-3.7 5.9zM434.04 328.39h7.4l-3.7 5.9zM429.30 332.81h7.4l-3.7 5.9zM437.48 326.01h7.4l-3.7 5.9zM460.36 307.23h7.4l-3.7 5.9zM485.15 286.92h7.4l-3.7 5.9zM481.25 290.25h7.4l-3.7 5.9zM453.12 313.41h7.4l-3.7 5.9zM469.28 300.11h7.4l-3.7 5.9zM461.00 307.08h7.4l-3.7 5.9zM486.08 286.02h7.4l-3.7 5.9zM484.95 287.28h7.4l-3.7 5.9zM495.73 278.75h7.4l-3.7 5.9zM421.62 338.68h7.4l-3.7 5.9zM489.04 284.12h7.4l-3.7 5.9zM420.62 339.31h7.4l-3.7 5.9zM419.43 339.67h7.4l-3.7 5.9zM472.97 298.13h7.4l-3.7 5.9zM415.03 343.58h7.4l-3.7 5.9zM470.51 300.15h7.4l-3.7 5.9zM433.95 327.99h7.4l-3.7 5.9zM419.85 341.10h7.4l-3.7 5.9zM484.28 288.11h7.4l-3.7 5.9zM426.56 333.71h7.4l-3.7 5.9zM469.96 299.24h7.4l-3.7 5.9zM455.73 311.22h7.4l-3.7 5.9zM455.53 312.68h7.4l-3.7 5.9zM436.11 329.68h7.4l-3.7 5.9zM471.94 297.23h7.4l-3.7 5.9zM502.39 273.51h7.4l-3.7 5.9zM503.52 271.68h7.4l-3.7 5.9zM503.90 272.90h7.4l-3.7 5.9zM504.58 271.26h7.4l-3.7 5.9zM506.79 270.96h7.4l-3.7 5.9zM517.24 260.86h7.4l-3.7 5.9zM515.88 263.10h7.4l-3.7 5.9zM514.76 263.09h7.4l-3.7 5.9zM520.69 259.30h7.4l-3.7 5.9zM519.29 259.12h7.4l-3.7 5.9zM525.82 254.53h7.4l-3.7 5.9z" fill="#0000ff"/><path d="M302.30 439.90L539.40 248.50" stroke="#eb1a1a" stroke-opacity="0.85" stroke-width="1.1"/><path d="M302.30 439.90V246.70M302.30 439.90H542.30" fill="none" stroke="#383838" stroke-width="1.7"/><path d="M302.30 242.70L304.90 247.70L302.30 246.90L299.70 247.70Z" fill="#000" stroke="#000" stroke-width="0.4"/><path d="M546.30 439.90L541.30 437.30L542.10 439.90L541.30 442.50Z" fill="#000" stroke="#000" stroke-width="0.4"/><text x="302.30" y="448.00" text-anchor="middle" class="tk">0</text><text x="300.70" y="442.60" text-anchor="end" class="tk">0</text><text x="361.57" y="448.00" text-anchor="middle" class="tk">3</text><text x="300.70" y="394.75" text-anchor="end" class="tk">3</text><text x="420.85" y="448.00" text-anchor="middle" class="tk">6</text><text x="300.70" y="346.90" text-anchor="end" class="tk">6</text><text x="480.12" y="448.00" text-anchor="middle" class="tk">9</text><text x="300.70" y="299.05" text-anchor="end" class="tk">9</text><text x="539.40" y="448.00" text-anchor="middle" class="tk">12</text><text x="300.70" y="251.20" text-anchor="end" class="tk">12</text><text x="420.85" y="462.30" text-anchor="middle" class="al">Measured Tree Height (m)</text><text transform="translate(285.50 343.90) rotate(-90)" text-anchor="middle" class="al">Estimated Tree Height (m)</text><text x="465.70" y="402.70" class="st">R<tspan class="sup" dx="0.1" dy="-3.5">2</tspan><tspan dx="0.2" dy="3.5">=1.00</tspan></text><text x="465.70" y="413.50" class="st">RMSE=0.00 m</text><text x="465.70" y="424.30" class="st">rRMSE=0.01%</text><text x="419.30" y="479.60" text-anchor="middle" class="cap">(d)</text></g></g>
</svg>
</body></html>
